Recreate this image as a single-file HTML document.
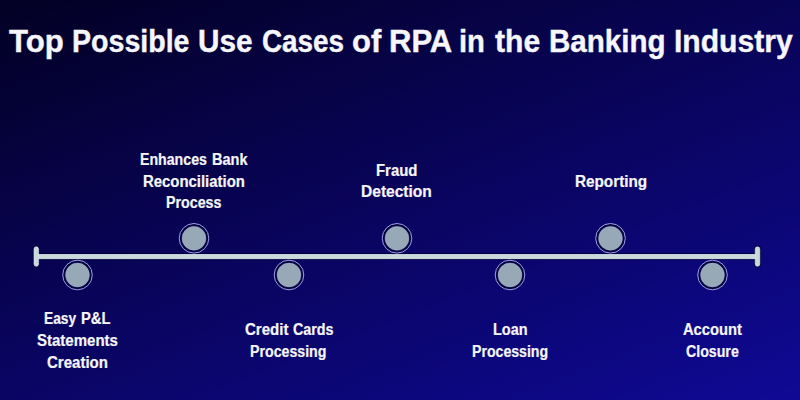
<!DOCTYPE html>
<html><head><meta charset="utf-8"><style>
html,body{margin:0;padding:0;}
body{width:800px;height:400px;overflow:hidden;position:relative;background:linear-gradient(159deg,#030024 0%,#0f0995 100%);}
.t{position:absolute;white-space:nowrap;font-family:"Liberation Sans",sans-serif;font-weight:bold;line-height:1;color:#f6f6fb;transform-origin:0 0;}
</style></head><body>
<svg width="800" height="400" style="position:absolute;left:0;top:0">
<g fill="#03013a">
<rect x="35" y="253.2" width="723" height="6.6"/>
<rect x="32.8" y="245.5" width="7" height="22" rx="3.5"/>
<rect x="754" y="245.5" width="7" height="22" rx="3.5"/>
</g>
<g fill="#c9d9dc" stroke="#dde8f6" stroke-width="0.6">
<rect x="36" y="254.3" width="721" height="4.5"/>
<rect x="34" y="246.8" width="4.6" height="19.5" rx="2.3"/>
<rect x="755.2" y="246.8" width="4.6" height="19.5" rx="2.3"/>
</g>
<rect x="38.5" y="254.6" width="716.5" height="3.9" fill="#c9d9dc"/>
<circle cx="77.5" cy="275" r="14.8" fill="#05033c" stroke="#a09eec" stroke-width="1"/>
<circle cx="77.5" cy="275" r="11.9" fill="#97a9b6" stroke="#a6b2e0" stroke-width="0.5"/>
<circle cx="194" cy="238.3" r="14.8" fill="#05033c" stroke="#a09eec" stroke-width="1"/>
<circle cx="194" cy="238.3" r="11.9" fill="#97a9b6" stroke="#a6b2e0" stroke-width="0.5"/>
<circle cx="289" cy="275" r="14.8" fill="#05033c" stroke="#a09eec" stroke-width="1"/>
<circle cx="289" cy="275" r="11.9" fill="#97a9b6" stroke="#a6b2e0" stroke-width="0.5"/>
<circle cx="397" cy="238.3" r="14.8" fill="#05033c" stroke="#a09eec" stroke-width="1"/>
<circle cx="397" cy="238.3" r="11.9" fill="#97a9b6" stroke="#a6b2e0" stroke-width="0.5"/>
<circle cx="510" cy="275" r="14.8" fill="#05033c" stroke="#a09eec" stroke-width="1"/>
<circle cx="510" cy="275" r="11.9" fill="#97a9b6" stroke="#a6b2e0" stroke-width="0.5"/>
<circle cx="610.5" cy="238.3" r="14.8" fill="#05033c" stroke="#a09eec" stroke-width="1"/>
<circle cx="610.5" cy="238.3" r="11.9" fill="#97a9b6" stroke="#a6b2e0" stroke-width="0.5"/>
<circle cx="712.5" cy="275" r="14.8" fill="#05033c" stroke="#a09eec" stroke-width="1"/>
<circle cx="712.5" cy="275" r="11.9" fill="#97a9b6" stroke="#a6b2e0" stroke-width="0.5"/>
</svg>
<div class="t" style="left:8.75px;top:25.84px;font-size:31.5px;transform:scaleX(0.9882);-webkit-text-stroke:0.4px #f6f6fb;">Top</div>
<div class="t" style="left:71.79px;top:25.84px;font-size:31.5px;transform:scaleX(0.9067);-webkit-text-stroke:0.4px #f6f6fb;">Possible</div>
<div class="t" style="left:198.11px;top:25.84px;font-size:31.5px;transform:scaleX(0.9436);-webkit-text-stroke:0.4px #f6f6fb;">Use</div>
<div class="t" style="left:261.62px;top:25.84px;font-size:31.5px;transform:scaleX(0.8846);-webkit-text-stroke:0.4px #f6f6fb;">Cases</div>
<div class="t" style="left:351.52px;top:25.84px;font-size:31.5px;transform:scaleX(0.9828);-webkit-text-stroke:0.4px #f6f6fb;">of</div>
<div class="t" style="left:389.03px;top:25.84px;font-size:31.5px;transform:scaleX(0.9839);-webkit-text-stroke:0.4px #f6f6fb;">RPA</div>
<div class="t" style="left:459.14px;top:25.84px;font-size:31.5px;transform:scaleX(0.9280);-webkit-text-stroke:0.4px #f6f6fb;">in</div>
<div class="t" style="left:494.70px;top:25.84px;font-size:31.5px;transform:scaleX(0.9574);-webkit-text-stroke:0.4px #f6f6fb;">the</div>
<div class="t" style="left:549.12px;top:25.84px;font-size:31.5px;transform:scaleX(0.9380);-webkit-text-stroke:0.4px #f6f6fb;">Banking</div>
<div class="t" style="left:673.59px;top:25.84px;font-size:31.5px;transform:scaleX(0.9549);-webkit-text-stroke:0.4px #f6f6fb;">Industry</div>
<div class="t" style="left:44.14px;top:310.96px;font-size:16.0px;transform:scaleX(0.8595);-webkit-text-stroke:0.2px #f6f6fb;">Easy</div>
<div class="t" style="left:81.08px;top:310.96px;font-size:16.0px;transform:scaleX(0.9194);-webkit-text-stroke:0.2px #f6f6fb;">P&amp;L</div>
<div class="t" style="left:37.10px;top:333.46px;font-size:16.0px;transform:scaleX(0.9384);-webkit-text-stroke:0.2px #f6f6fb;">Statements</div>
<div class="t" style="left:46.90px;top:354.96px;font-size:16.0px;transform:scaleX(0.9385);-webkit-text-stroke:0.2px #f6f6fb;">Creation</div>
<div class="t" style="left:139.91px;top:152.06px;font-size:16.0px;transform:scaleX(0.8851);-webkit-text-stroke:0.2px #f6f6fb;">Enhances</div>
<div class="t" style="left:212.29px;top:152.06px;font-size:16.0px;transform:scaleX(0.9105);-webkit-text-stroke:0.2px #f6f6fb;">Bank</div>
<div class="t" style="left:143.07px;top:173.56px;font-size:16.0px;transform:scaleX(0.9315);-webkit-text-stroke:0.2px #f6f6fb;">Reconciliation</div>
<div class="t" style="left:165.81px;top:195.46px;font-size:16.0px;transform:scaleX(0.8902);-webkit-text-stroke:0.2px #f6f6fb;">Process</div>
<div class="t" style="left:375.97px;top:163.06px;font-size:16.0px;transform:scaleX(0.9302);-webkit-text-stroke:0.2px #f6f6fb;">Fraud</div>
<div class="t" style="left:360.93px;top:184.36px;font-size:16.0px;transform:scaleX(0.9722);-webkit-text-stroke:0.2px #f6f6fb;">Detection</div>
<div class="t" style="left:574.65px;top:173.71px;font-size:16.0px;transform:scaleX(0.9547);-webkit-text-stroke:0.2px #f6f6fb;">Reporting</div>
<div class="t" style="left:244.90px;top:322.26px;font-size:16.0px;transform:scaleX(0.9383);-webkit-text-stroke:0.2px #f6f6fb;">Credit</div>
<div class="t" style="left:293.00px;top:322.26px;font-size:16.0px;transform:scaleX(0.8933);-webkit-text-stroke:0.2px #f6f6fb;">Cards</div>
<div class="t" style="left:250.31px;top:343.76px;font-size:16.0px;transform:scaleX(0.8859);-webkit-text-stroke:0.2px #f6f6fb;">Processing</div>
<div class="t" style="left:492.60px;top:322.46px;font-size:16.0px;transform:scaleX(0.9027);-webkit-text-stroke:0.2px #f6f6fb;">Loan</div>
<div class="t" style="left:471.62px;top:343.71px;font-size:16.0px;transform:scaleX(0.8824);-webkit-text-stroke:0.2px #f6f6fb;">Processing</div>
<div class="t" style="left:683.10px;top:322.21px;font-size:16.0px;transform:scaleX(0.9187);-webkit-text-stroke:0.2px #f6f6fb;">Account</div>
<div class="t" style="left:686.25px;top:343.71px;font-size:16.0px;transform:scaleX(0.8858);-webkit-text-stroke:0.2px #f6f6fb;">Closure</div>
</body></html>
